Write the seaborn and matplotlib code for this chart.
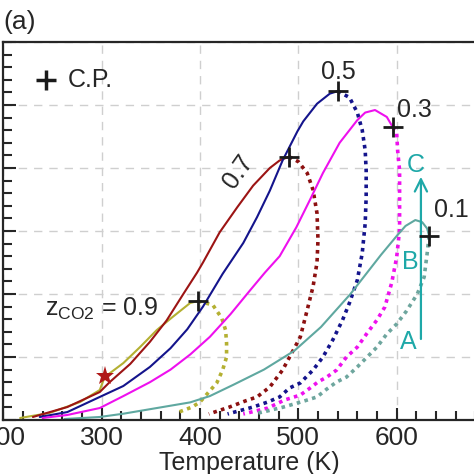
"""Phase envelopes of CO2 mixtures, bubble (solid) and dew (dotted) curves."""

import pandas as pd
import seaborn as sns
import matplotlib.pyplot as plt
from matplotlib.ticker import MultipleLocator, FixedLocator

# bubble-point branches (solid), temperature K / pressure MPa
t_bub_09 = [217, 247, 278, 298, 303, 322, 339, 356, 372, 390, 398]
p_bub_09 = [0.16, 0.56, 1.43, 2.38, 3.41, 4.52, 5.79, 7.14, 8.17, 9.29, 9.44]
t_bub_07 = [230, 265, 298, 308, 329, 349, 366, 383, 397, 403, 420, 438, 454, 471, 481, 490.5]
p_bub_07 = [0.24, 1.03, 2.22, 3.0, 4.45, 6.2, 7.9, 10.0, 11.7, 12.5, 14.9, 16.9, 18.6, 20.0, 20.6, 20.9]
t_bub_05 = [237, 265, 298, 322, 349, 370, 387, 403, 423, 444, 458, 471, 484, 499, 505, 519, 532, 540]
p_bub_05 = [0.24, 0.63, 1.83, 2.7, 4.21, 5.7, 7.2, 9.0, 11.6, 14.05, 16.1, 18.2, 20.6, 22.9, 23.7, 25.1, 25.9, 26.1]
t_bub_03 = [240, 265, 298, 322, 349, 370, 390, 410, 431, 451, 466, 481, 498, 512, 525, 542, 560, 568, 578, 590, 596]
p_bub_03 = [0.16, 0.40, 0.95, 1.9, 3.0, 4.0, 5.2, 6.6, 8.4, 10.3, 11.7, 13.0, 15.3, 17.5, 19.6, 22.0, 23.8, 24.4, 24.6, 24.05, 23.25]
t_bub_01 = [262, 298, 322, 356, 390, 410, 434, 465, 496, 523, 553, 584, 600, 609, 619, 626, 631, 633]
p_bub_01 = [0.08, 0.24, 0.5, 0.95, 1.4, 1.9, 2.8, 4.0, 5.5, 7.38, 10.0, 13.1, 14.6, 15.4, 15.87, 15.7, 15.2, 14.6]

# dew-point branches (dotted)
t_dew_09 = [398, 413, 422, 426, 427, 427, 423, 417, 408, 400, 392, 376]
p_dew_09 = [9.44, 9.13, 8.10, 7.14, 6.11, 5.0, 3.97, 2.94, 2.14, 1.43, 1.03, 0.56]
t_dew_07 = [490.5, 500, 509, 515, 519, 520, 519, 515, 509, 502, 495, 484, 471, 458, 446, 430, 409]
p_dew_07 = [20.9, 20.5, 19.6, 18.25, 16.4, 14.3, 12.5, 10.6, 8.73, 6.59, 5.56, 3.97, 2.62, 1.83, 1.51, 1.03, 0.48]
t_dew_05 = [540, 552, 560, 565, 568, 569, 569, 568, 565, 560, 552, 545, 535, 525, 515, 502, 491, 481, 469, 454, 428]
p_dew_05 = [26.1, 25.6, 24.4, 23.0, 21.4, 19.8, 17.7, 15.6, 13.25, 11.1, 9.29, 7.94, 6.35, 5.0, 3.97, 2.94, 2.54, 1.83, 1.43, 1.03, 0.48]
t_dew_03 = [596, 600, 601, 603, 603, 603, 600, 595, 588, 580, 570, 560, 549, 539, 529, 520, 512, 502, 486, 469, 444]
p_dew_03 = [23.25, 22.8, 21.4, 19.8, 17.7, 15.1, 12.9, 10.9, 8.97, 7.94, 6.90, 5.79, 5.0, 3.97, 3.41, 3.02, 2.54, 1.98, 1.59, 0.95, 0.48]
t_dew_01 = [633, 631, 628, 621, 610, 600, 590, 580, 570, 560, 549, 539, 529, 519, 506, 485, 468, 455]
p_dew_01 = [14.6, 13.2, 11.35, 10.0, 8.65, 7.62, 6.83, 5.79, 5.0, 4.21, 3.41, 3.02, 2.46, 1.83, 1.51, 1.03, 0.71, 0.48]

# critical points
cp_t = [398, 490.5, 540, 596, 633]
cp_p = [9.44, 20.9, 26.1, 23.25, 14.6]

compositions = ["0.9", "0.7", "0.5", "0.3", "0.1"]
colors = ["#b4b032", "#9c1414", "#14148c", "#ee10ee", "#5fa8a0"]
dew_colors = ["#b4b032", "#8c1010", "#14148c", "#ee10ee", "#6ea69e"]

bubble = [(t_bub_09, p_bub_09), (t_bub_07, p_bub_07), (t_bub_05, p_bub_05),
          (t_bub_03, p_bub_03), (t_bub_01, p_bub_01)]
dew = [(t_dew_09, p_dew_09), (t_dew_07, p_dew_07), (t_dew_05, p_dew_05),
       (t_dew_03, p_dew_03), (t_dew_01, p_dew_01)]

sns.set_theme(style="ticks")
plt.rcParams["font.family"] = ["Liberation Sans", "DejaVu Sans"]

fig = plt.figure(figsize=(4.74, 4.74), dpi=100)
ax = fig.add_axes([0.0072, 0.1139, 1.037, 0.7975])

for (tb, pb), (td, pd_), c, cd in zip(bubble, dew, colors, dew_colors):
    sns.lineplot(data=pd.DataFrame({"T": tb, "P": pb}), x="T", y="P", sort=False,
                 estimator=None, color=c, lw=1.5, ax=ax)
    sns.lineplot(data=pd.DataFrame({"T": td, "P": pd_}), x="T", y="P", sort=False,
                 estimator=None, color=cd, lw=2.6, ax=ax,
                 linestyle=(0, (1, 1.2)), dash_capstyle="butt")

ax.plot(cp_t, cp_p, "k+", ms=14, mew=2, zorder=5, clip_on=False)
ax.plot([303], [3.5], marker="*", color="#b01818", ms=14, mew=0, zorder=5)

# legend-like note
ax.plot([243], [27.0], "k+", ms=14, mew=2.5)
ax.text(265, 27.0, "C.P.", fontsize=18, va="center", ha="left")

# composition labels
ax.text(541, 27.6, "0.5", fontsize=18, ha="center", va="center")
ax.text(618, 24.6, "0.3", fontsize=18, ha="center", va="center")
ax.text(656, 16.7, "0.1", fontsize=18, ha="center", va="center")
ax.text(439, 19.7, "0.7", fontsize=18, ha="center", va="center", rotation=55)
ax.text(300, 8.8, r"z$_{\mathregular{CO2}}$ = 0.9", fontsize=18, ha="center", va="center")

# path A -> C
teal = "#1ea8a8"
ax.annotate("", xy=(624.7, 19.3), xytext=(624.7, 6.43),
            arrowprops=dict(arrowstyle="->", color=teal, lw=1.6, mutation_scale=22,
                            shrinkA=0, shrinkB=0))
ax.text(611.5, 6.19, "A", color=teal, fontsize=18, ha="center", va="center")
ax.text(613.5, 12.54, "B", color=teal, fontsize=18, ha="center", va="center")
ax.text(619.6, 20.2, "C", color=teal, fontsize=18, ha="center", va="center")

ax.set_xlim(200, 700)
ax.set_ylim(0, 30)
ax.xaxis.set_major_locator(FixedLocator([200, 300, 400, 500, 600]))
ax.xaxis.set_minor_locator(MultipleLocator(20))
ax.yaxis.set_major_locator(MultipleLocator(5))
ax.yaxis.set_minor_locator(MultipleLocator(1))
ax.tick_params(which="both", direction="in", width=1.5, labelsize=19, labelleft=False)
ax.tick_params(which="major", length=9, pad=4)
ax.tick_params(which="minor", length=6.5)
ax.grid(True, which="major", color="#cfcfcf", linestyle=(0, (6, 5)), lw=1)
for s in ax.spines.values():
    s.set_linewidth(1.6)
ax.set_xlabel("Temperature (K)", fontsize=18, labelpad=1)
ax.set_ylabel("")

fig.text(0.008, 0.953, "(a)", fontsize=19, ha="left", va="center")

fig.savefig("out.png", dpi=100)
